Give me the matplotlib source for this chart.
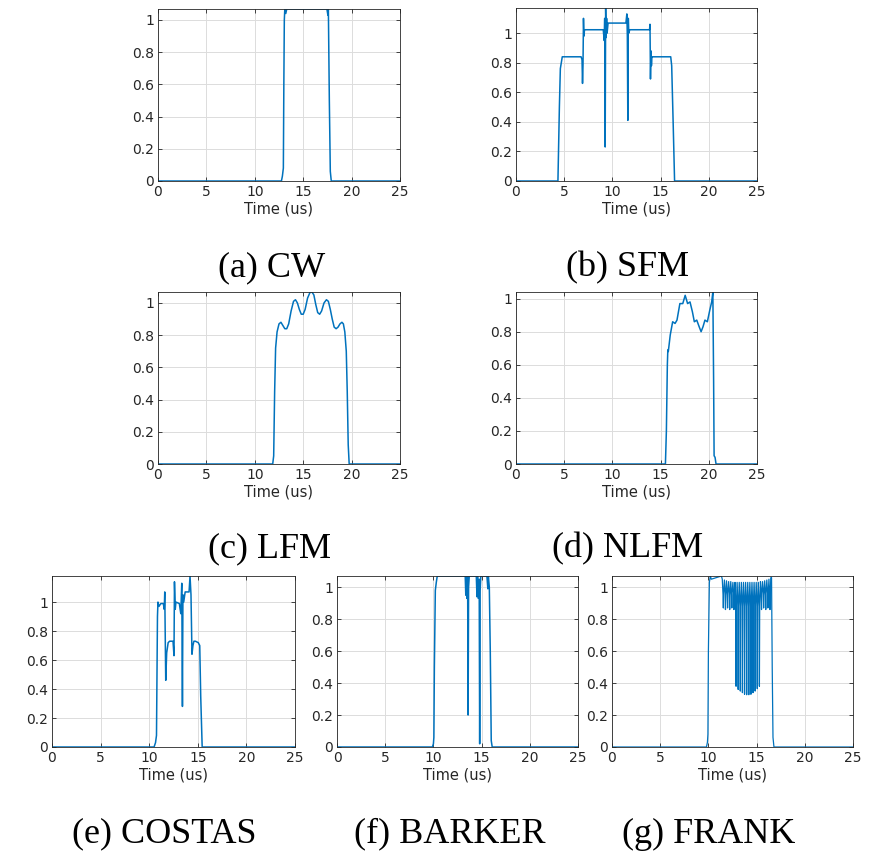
"""Pulse envelopes of seven radar waveforms, 3-row grid with serif captions."""
import matplotlib
matplotlib.use("Agg")
import matplotlib.pyplot as plt

BLUE = "#0072BD"
plt.rcParams.update({"font.family": "DejaVu Sans", "font.size": 10,
                     "axes.edgecolor": "#262626", "axes.linewidth": 0.6,
                     "xtick.color": "#262626", "ytick.color": "#262626",
                     "xtick.direction": "in", "ytick.direction": "in",
                     "xtick.top": True, "ytick.right": True,
                     "xtick.major.size": 3, "ytick.major.size": 3,
                     "xtick.major.width": 0.6, "ytick.major.width": 0.6})

# ---- data (time in us, normalised amplitude) -------------------------------
cw_t = [0, 12.75, 12.85, 12.95, 13.0, 13.05, 13.1, 13.2, 13.3, 17.45, 17.55,
        17.6, 17.7, 17.8, 17.9, 25]
cw_y = [0, 0, 0.03, 0.08, 0.6, 1.0, 1.068, 1.04, 1.068, 1.068, 1.03,
        1.068, 0.5, 0.06, 0, 0]

sfm_t = [0, 4.35, 4.5, 4.6, 4.7, 4.8, 6.75, 6.85, 6.9, 6.95, 7.0, 7.05, 7.1,
         7.2, 9.05, 9.15, 9.2, 9.25, 9.3, 9.35, 9.4, 9.45, 9.55, 11.4, 11.5,
         11.55, 11.6, 11.65, 11.7, 11.8, 13.85, 13.9, 13.95, 14.0, 14.05, 14.1,
         14.2, 16.05, 16.15, 16.3, 16.45, 25]
sfm_y = [0, 0, 0.5, 0.76, 0.8, 0.84, 0.84, 0.82, 0.66, 0.78, 1.10, 0.98, 1.02,
         1.023, 1.023, 0.95, 1.1, 0.23, 1.17, 0.97, 1.1, 1.0, 1.068, 1.068,
         1.13, 0.98, 0.41, 1.1, 1.0, 1.023, 1.023, 1.06, 0.69, 0.88, 0.78,
         0.84, 0.84, 0.84, 0.78, 0.4, 0, 0]

lfm_t = [0, 11.85, 11.95, 12.05, 12.15, 12.3, 12.5, 12.7, 12.9, 13.1, 13.3,
         13.5, 13.75, 14.0, 14.2, 14.4, 14.6, 14.8, 15.0, 15.2, 15.45, 15.7,
         15.9, 16.1, 16.3, 16.5, 16.7, 16.9, 17.15, 17.4, 17.6, 17.8, 18.0,
         18.2, 18.4, 18.6, 18.8, 19.0, 19.15, 19.3, 19.45, 19.55, 19.65,
         19.75, 25]
lfm_y = [0, 0, 0.05, 0.45, 0.72, 0.82, 0.87, 0.88, 0.86, 0.84, 0.84, 0.87,
         0.95, 1.01, 1.02, 1.0, 0.96, 0.93, 0.93, 0.96, 1.03, 1.065, 1.068,
         1.05, 0.99, 0.94, 0.93, 0.95, 1.0, 1.02, 1.01, 0.96, 0.90, 0.85,
         0.84, 0.85, 0.87, 0.88, 0.87, 0.82, 0.70, 0.45, 0.12, 0, 0]

nlfm_t = [0, 15.5, 15.6, 15.7, 15.75, 15.8, 16.0, 16.25, 16.5, 16.7, 17.0,
          17.15, 17.3, 17.55, 17.8, 18.05, 18.3, 18.5, 18.75, 19.0, 19.2,
          19.4, 19.6, 19.85, 20.1, 20.3, 20.42, 20.5, 20.55, 20.65, 20.75, 25]
nlfm_y = [0, 0, 0.2, 0.6, 0.69, 0.68, 0.78, 0.86, 0.85, 0.87, 0.97, 0.97,
          0.97, 1.02, 0.97, 0.98, 0.92, 0.86, 0.87, 0.83, 0.80, 0.83, 0.87,
          0.86, 0.93, 0.98, 1.04, 0.5, 0.05, 0.04, 0, 0]

costas_t = [0, 10.5, 10.65, 10.75, 10.85, 10.9, 11.0, 11.2, 11.45, 11.55,
            11.6, 11.7, 11.8, 11.95, 12.1, 12.45, 12.55, 12.6, 12.68, 12.75,
            13.1, 13.25, 13.35, 13.42, 13.47, 13.55, 13.7, 14.1, 14.2, 14.3,
            14.4, 14.5, 14.6, 14.75, 15.05, 15.2, 15.3, 15.45, 25]
costas_y = [0, 0, 0.03, 0.08, 0.9, 1.0, 0.97, 0.99, 0.99, 0.95, 1.07, 0.46,
            0.65, 0.72, 0.73, 0.73, 0.63, 1.14, 0.95, 1.0, 0.99, 0.92, 1.13,
            0.28, 1.05, 1.0, 1.07, 1.07, 1.18, 1.05, 0.64, 0.7, 0.73, 0.73,
            0.72, 0.70, 0.35, 0, 0]

barker_t = [0, 9.9, 10.0, 10.05, 10.1, 10.2, 10.3, 10.4, 10.5, 13.3, 13.36,
            13.42, 13.48, 13.55, 13.6, 13.65, 13.72, 13.8, 14.45, 14.52, 14.58,
            14.65, 14.75, 14.8, 14.85, 14.92, 15.0, 15.55, 15.65, 15.7, 15.8,
            15.9, 16.0, 16.1, 25]
barker_y = [0, 0, 0.02, 0.06, 0.5, 0.98, 1.03, 1.07, 1.07, 1.07, 0.95, 1.07,
            0.93, 1.07, 0.2, 1.0, 1.07, 1.07, 1.07, 0.94, 1.07, 0.93, 1.05,
            0.02, 0.98, 1.07, 1.07, 1.07, 0.99, 1.07, 1.0, 0.6, 0.04, 0, 0]

# FRANK: flat edges + ripple; peaks, narrow dips and the dips' shoulders
frank_edge_t = [0, 9.8, 9.9, 9.95, 10.0, 10.1, 10.2, 10.3, 11.35,
                16.55, 16.62, 16.7, 16.8, 25]
frank_edge_y = [0, 0, 0.03, 0.08, 0.6, 1.03, 1.07, 1.05, 1.07,
                1.06, 0.5, 0.06, 0, 0]
frank_hi_t = [11.44, 11.66, 11.88, 12.10, 12.32, 12.54, 12.76, 12.98, 13.20,
              13.42, 13.64, 13.86, 14.08, 14.30, 14.52, 14.74, 14.96, 15.18,
              15.40, 15.62, 15.84, 16.06, 16.28, 16.48]
frank_hi = [1.05, 1.045, 1.04, 1.035, 1.035, 1.03, 1.03, 1.03, 1.03, 1.03,
            1.03, 1.03, 1.03, 1.03, 1.03, 1.03, 1.03, 1.03, 1.035, 1.035,
            1.04, 1.045, 1.05, 1.06]
frank_lo_t = [11.55, 11.77, 11.99, 12.21, 12.43, 12.65, 12.87, 13.09, 13.31,
              13.53, 13.75, 13.97, 14.19, 14.41, 14.63, 14.85, 15.07, 15.29,
              15.51, 15.73, 15.95, 16.17, 16.39]
frank_lo = [0.87, 0.86, 0.87, 0.86, 0.87, 0.86, 0.38, 0.36, 0.35, 0.34, 0.33,
            0.327, 0.327, 0.33, 0.34, 0.35, 0.365, 0.38, 0.86, 0.87, 0.86,
            0.87, 0.86]
frank_pre_t = [11.52, 11.74, 11.96, 12.18, 12.40, 12.62, 12.84, 13.06, 13.28,
               13.50, 13.72, 13.94, 14.16, 14.38, 14.60, 14.82, 15.04, 15.26,
               15.48, 15.70, 15.92, 16.14, 16.36]
frank_pre = [0.95, 0.96, 0.95, 0.96, 0.95, 0.96, 0.88, 0.88, 0.88, 0.88,
             0.88, 0.88, 0.88, 0.88, 0.88, 0.88, 0.88, 0.88, 0.95, 0.96, 0.95,
             0.96, 0.95]
frank_post_t = [11.58, 11.80, 12.02, 12.24, 12.46, 12.68, 12.90, 13.12,
                13.34, 13.56, 13.78, 14.00, 14.22, 14.44, 14.66, 14.88, 15.10,
                15.32, 15.54, 15.76, 15.98, 16.20, 16.42]
frank_post = [0.96, 0.95, 0.96, 0.95, 0.96, 0.95, 0.88, 0.88, 0.88, 0.88,
              0.88, 0.88, 0.88, 0.88, 0.88, 0.88, 0.88, 0.88, 0.96, 0.95,
              0.96, 0.95, 0.96]

frank = sorted(zip(frank_edge_t + frank_hi_t + frank_lo_t + frank_pre_t
                   + frank_post_t,
                   frank_edge_y + frank_hi + frank_lo + frank_pre
                   + frank_post))
frank_t = [p[0] for p in frank]
frank_y = [p[1] for p in frank]

# (series, caption, ymax, axes box in pixels: left, right, top, bottom)
panels = [
    (cw_t, cw_y, "(a) CW", 1.068, (158, 400, 9, 181)),
    (sfm_t, sfm_y, "(b) SFM", 1.17, (516, 757, 8, 181)),
    (lfm_t, lfm_y, "(c) LFM", 1.068, (158, 400, 292, 464)),
    (nlfm_t, nlfm_y, "(d) NLFM", 1.04, (516, 757, 292, 464)),
    (costas_t, costas_y, "(e) COSTAS", 1.18, (52, 295, 576, 747)),
    (barker_t, barker_y, "(f) BARKER", 1.07, (337, 578, 576, 747)),
    (frank_t, frank_y, "(g) FRANK", 1.07, (612, 853, 576, 747)),
]
caption_xy = [(272, 268), (628, 268), (270, 549), (628, 549),
              (164, 834), (450, 834), (709, 834)]

W, H = 869, 857
fig = plt.figure(figsize=(W / 100, H / 100), dpi=100)
for (t, y, cap, ymax, (l, r, tp, b)), (cx, cy) in zip(panels, caption_xy):
    ax = fig.add_axes([l / W, 1 - b / H, (r - l) / W, (b - tp) / H])
    ax.plot(t, y, color=BLUE, lw=1.1 if cap != "(g) FRANK" else 0.9)
    ax.set_xlim(0, 25); ax.set_ylim(0, ymax)
    ax.set_xticks([0, 5, 10, 15, 20, 25])
    ax.set_yticks([0, 0.2, 0.4, 0.6, 0.8, 1])
    ax.set_yticklabels(["0", "0.2", "0.4", "0.6", "0.8", "1"])
    ax.grid(True, color="#dcdcdc", lw=0.7)
    ax.set_axisbelow(True)
    ax.tick_params(labelsize=10, pad=3)
    ax.set_xlabel("Time (us)", fontsize=10.5, color="#262626", labelpad=2)
    fig.text(cx / W, 1 - cy / H, cap, ha="center", va="center",
             family="Liberation Serif", fontsize=26)

fig.savefig("out.png", dpi=100)
